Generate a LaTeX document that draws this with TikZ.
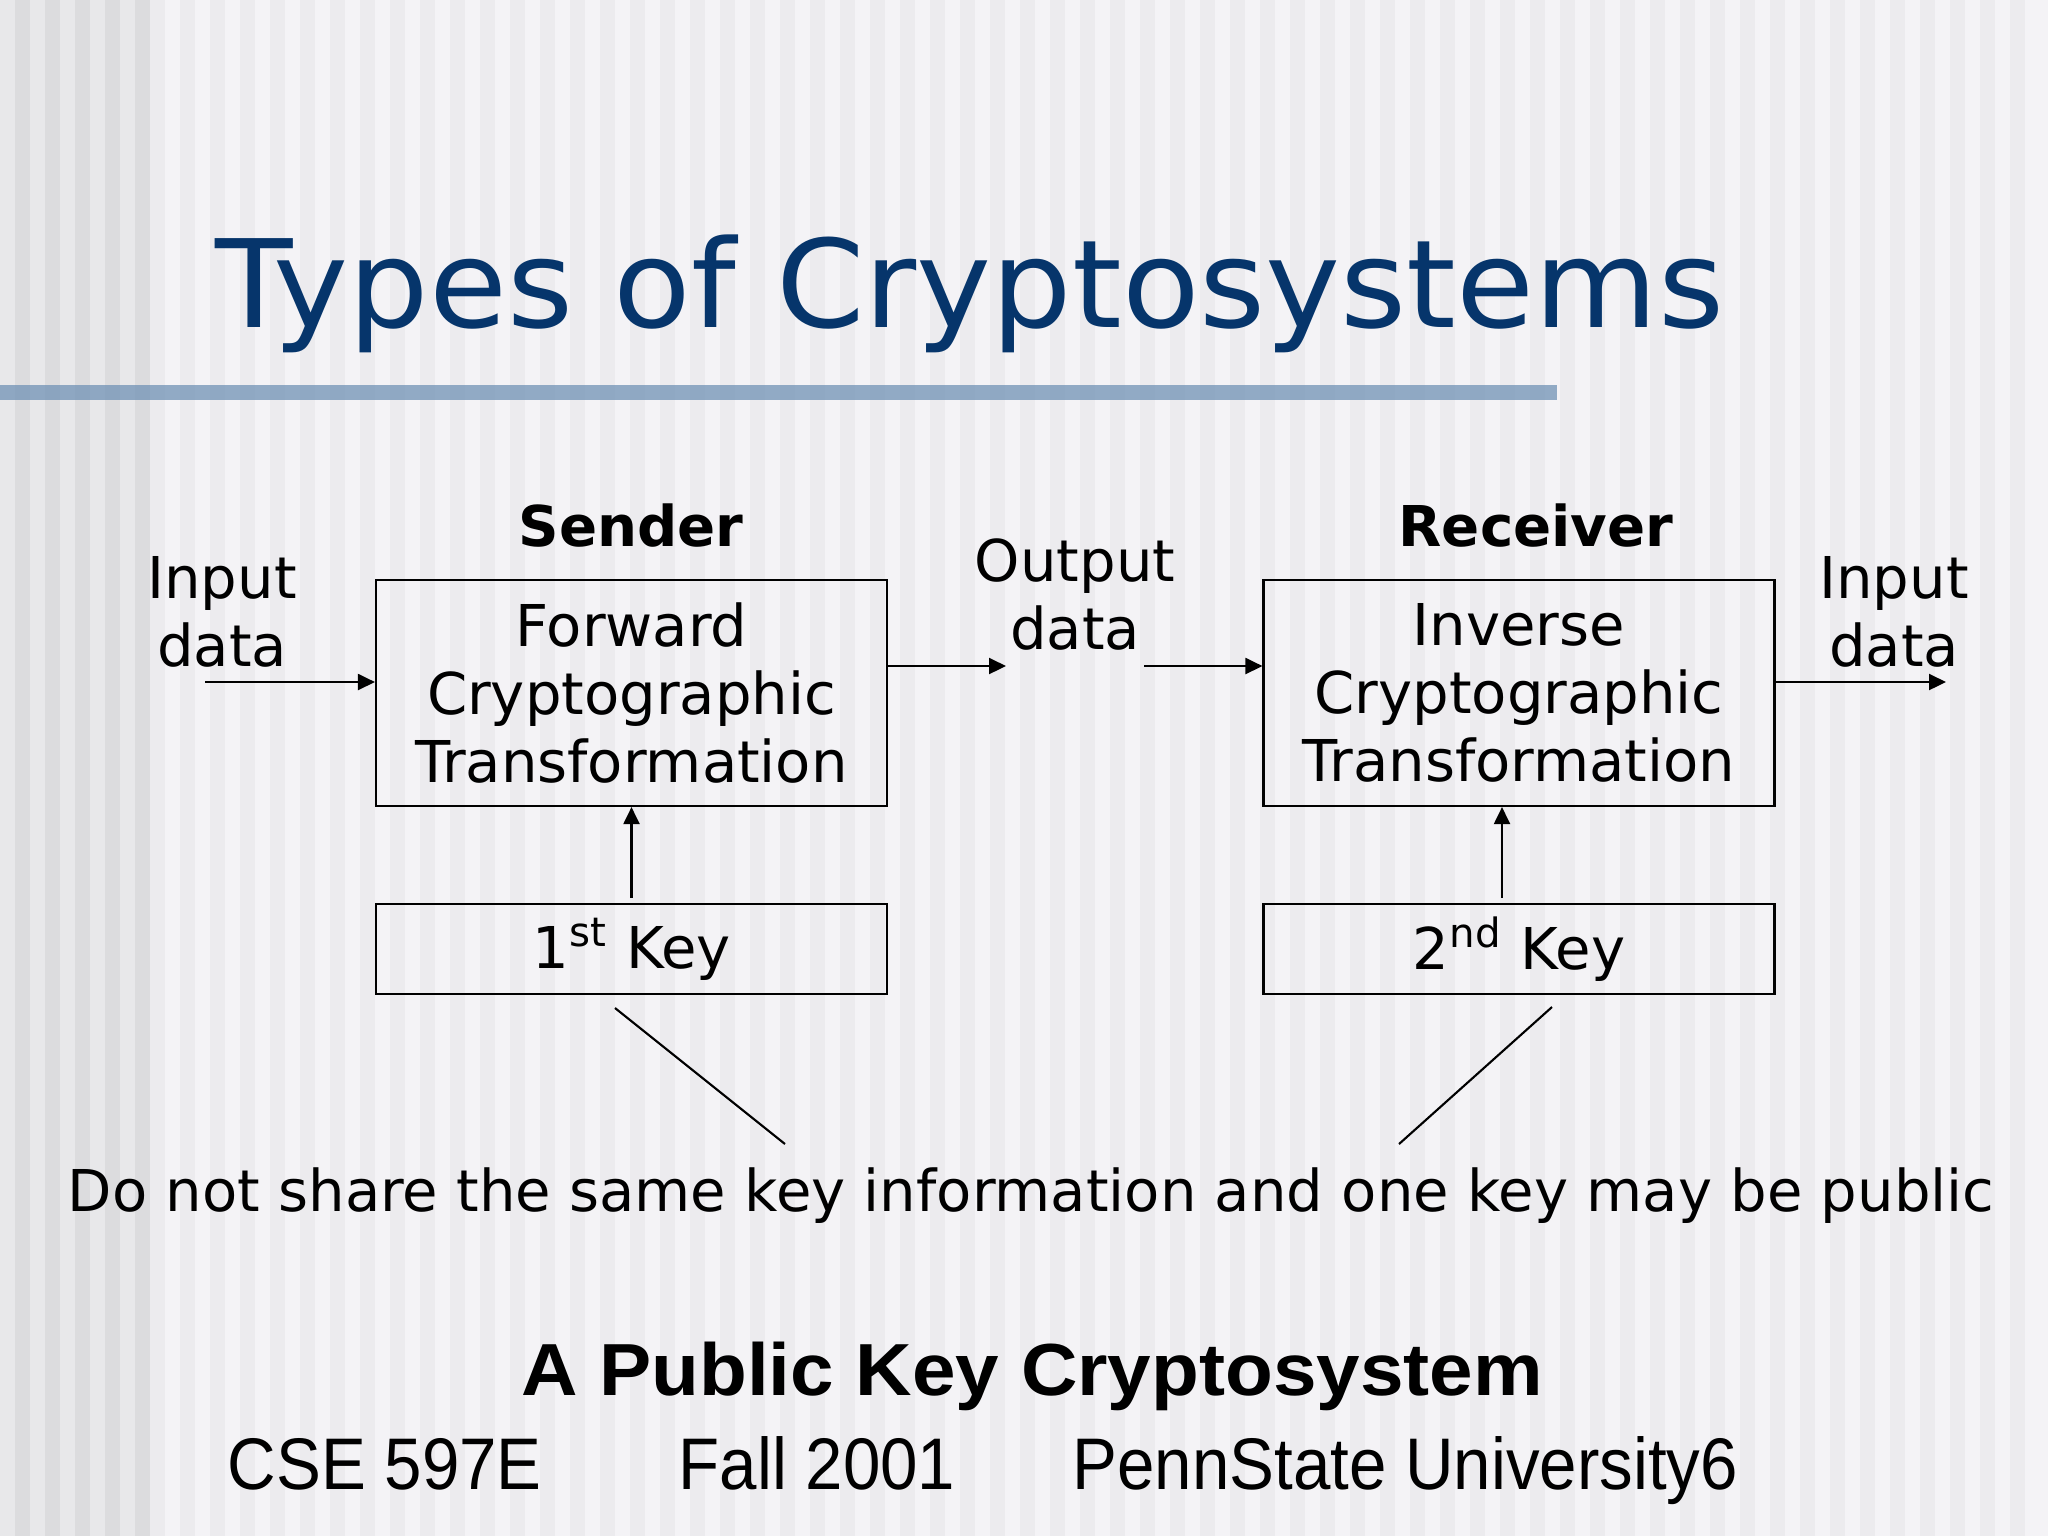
\documentclass[tikz,border=0pt]{standalone}
\usepackage{fontspec}
\setmainfont{DejaVu Sans}
\newfontfamily\titlefont[FakeStretch=1.04]{DejaVu Sans}
\newfontfamily\footfont[FakeStretch=0.92]{Liberation Sans}
\newfontfamily\captionfont[FakeStretch=1.06]{Liberation Sans}
\usetikzlibrary{arrows.meta, calc}

\definecolor{titleblue}{HTML}{06356B}
\definecolor{barblue}{HTML}{7192B5}
\definecolor{paper}{HTML}{F4F3F6}
\definecolor{stripe}{HTML}{ECEBEE}
\definecolor{leftpaper}{HTML}{E8E8EA}
\definecolor{darkstripe}{HTML}{DCDCDE}

\begin{document}
\begin{tikzpicture}[x=0.1mm, y=-0.1mm,
    txt/.style={font=\fontsize{16.4}{19.3}\selectfont, align=center, inner sep=0pt},
    box/.style={draw, line width=0.6pt, minimum width=51.1mm, inner sep=0pt, txt},
    arr/.style={line width=0.6pt, -{Triangle[length=1.7mm,width=1.6mm]}},
    footer/.style={font=\footfont\fontsize{20.8}{24}\selectfont, inner sep=0pt, anchor=base west}]

    % slide background with its vertical stripes
    \fill[paper] (0,0) rectangle (2048,1536);
    \fill[leftpaper] (0,0) rectangle (150,1536);
    \foreach \i in {0,...,4}
        \fill[darkstripe] (\i*30+15,0) rectangle ++(15,1536);
    \foreach \i in {5,...,67}
        \fill[stripe] (\i*30,0) rectangle ++(15,1536);

    % title and rule under it
    \node[font=\titlefont\fontsize{34.7}{40}\selectfont, text=titleblue, inner sep=0pt, anchor=base west] (title) at (215,327) {Types of Cryptosystems};
    \fill[barblue, opacity=0.75] (0,385) rectangle (1557,400);

    % the two transformations
    \node[box, minimum height=22.6mm] (fwd) at (631.5,693) {Forward\\Cryptographic\\Transformation};
    \node[box, minimum height=22.6mm] (inv) at (1519,693) {Inverse\\Cryptographic\\Transformation};
    \node[txt, font=\fontsize{16}{19.3}\selectfont\bfseries, anchor=base] (sender) at (631,546) {Sender};
    \node[txt, font=\fontsize{16}{19.3}\selectfont\bfseries, anchor=base] (receiver) at (1536,546) {Receiver};

    % keys
    \node[box, minimum height=9mm] (key1) at (631.5,949) {1\textsuperscript{st} Key};
    \node[box, minimum height=9mm] (key2) at (1519,949) {2\textsuperscript{nd} Key};

    % data labels (base is the last line)
    \node[txt, anchor=base] (inL) at (222,666) {Input\\data};
    \node[txt, anchor=base] (out) at (1075,649) {Output\\data};
    \node[txt, anchor=base] (inR) at (1894,666) {Input\\data};

    \coordinate (inStart) at (205,682);
    \coordinate (outTip) at (1006,666);
    \coordinate (outStart) at (1144,666);
    \coordinate (inEnd) at (1946,682);
    \draw[arr] (inStart) -- (inStart -| fwd.west);
    \draw[arr] (outTip -| fwd.east) -- (outTip);
    \draw[arr] (outStart) -- (outStart -| inv.west);
    \draw[arr] (inEnd -| inv.east) -- (inEnd);
    \draw[arr] ($(key1.north)+(0,-5)$) -- (fwd.south);
    \draw[arr] ($(key2.north)+(-17,-5)$) -- ($(inv.south)+(-17,0)$);

    % note on the keys
    \node[txt, anchor=base] (note) at (1031,1211) {Do not share the same key information and one key may be public};
    \coordinate (k1a) at (615,1008);
    \coordinate (k1b) at (785,1144);
    \coordinate (k2a) at (1552,1007);
    \coordinate (k2b) at (1399,1144);
    \draw[line width=0.6pt] (k1a) -- (k1b);
    \draw[line width=0.6pt] (k2a) -- (k2b);

    % caption and footer
    \node[footer, font=\captionfont\fontsize{21}{24}\selectfont\bfseries, anchor=base] (caption) at (1032,1395) {A Public Key Cryptosystem};
    \node[footer] (course) at (227,1489) {CSE 597E};
    \node[footer] (term) at (678,1489) {Fall 2001};
    \node[footer] (school) at (1072,1489) {PennState University6};

\end{tikzpicture}
\end{document}
